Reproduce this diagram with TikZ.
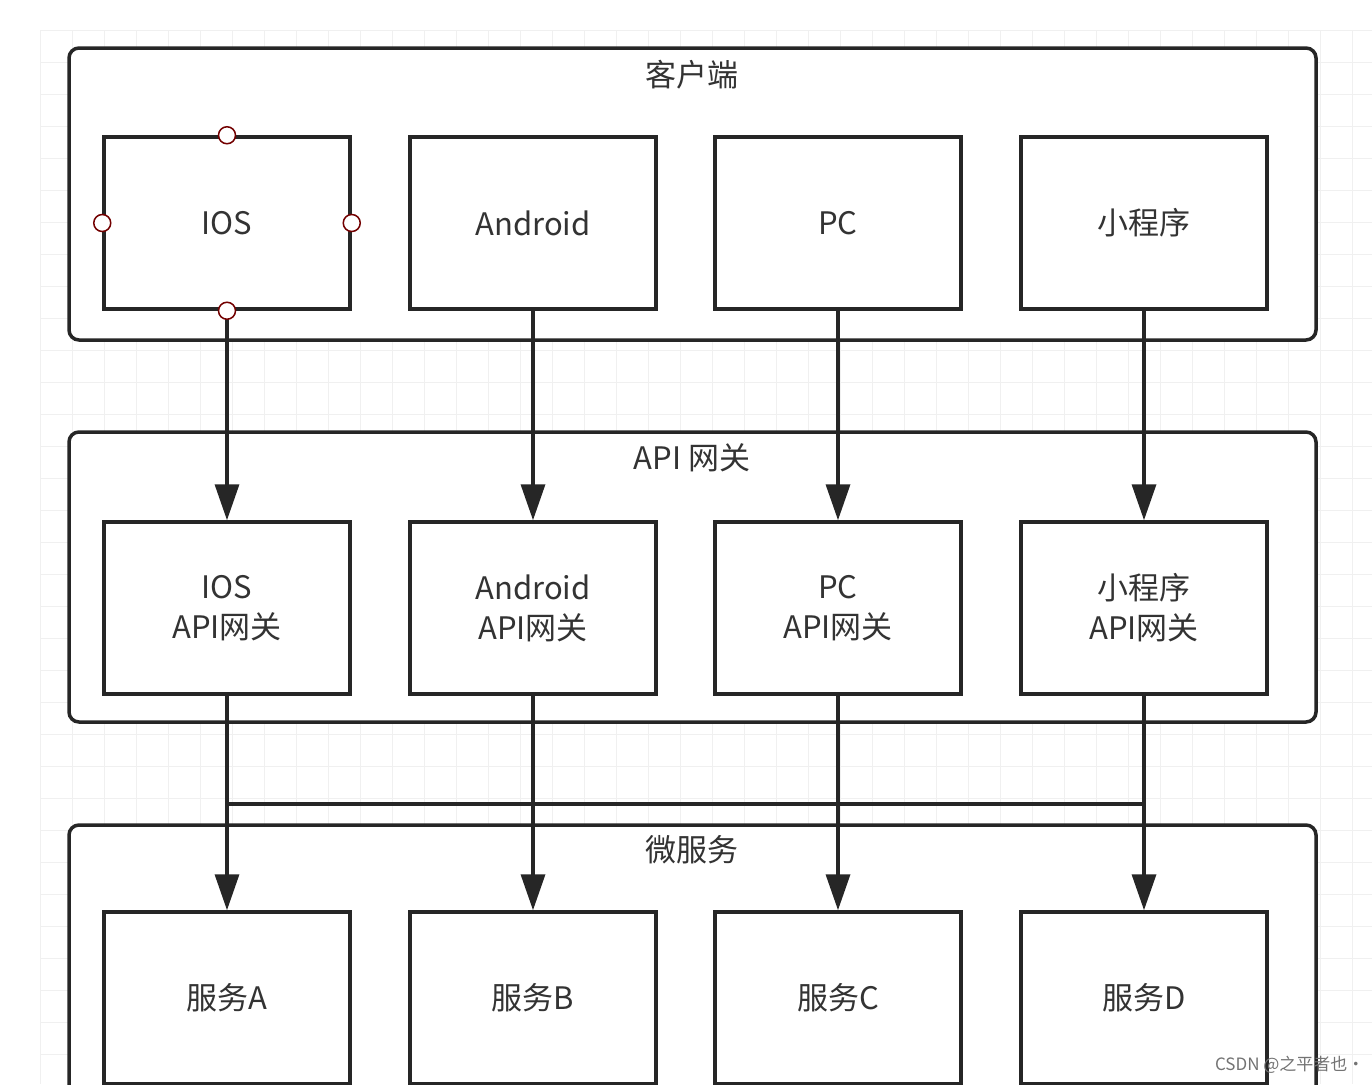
\documentclass[tikz,border=0pt]{standalone}
\usepackage{fontspec}
\setmainfont{Noto Sans CJK SC}
\usetikzlibrary{arrows.meta}
\begin{document}
\begin{tikzpicture}[x=1pt,y=-1pt,
  grp/.style={draw=black!85,line width=3.5pt,rounded corners=10pt,fill=white},
  box/.style={draw=black!85,line width=3.5pt,fill=white,minimum width=246pt,minimum height=172pt,inner sep=0pt,align=center,font=\fontsize{31}{40}\selectfont,text=black!80},
  ttl/.style={font=\fontsize{31}{36}\selectfont,text=black!80},
  arr/.style={draw=black!85,line width=3.5pt,-{Triangle[length=36pt,width=24pt]}},
  hnd/.style={circle,draw=red!45!black,fill=white,line width=1.5pt,minimum size=17pt,inner sep=0pt}]
\useasboundingbox (0,0) rectangle (1372,1084);
\fill[white] (0,0) rectangle (1372,1084);
\begin{scope}
\clip (0,0) rectangle (1372,1084);
\foreach \i in {0,...,41} \draw[black!6,line width=1pt] (40+32*\i,30) -- (40+32*\i,1084);
\foreach \j in {0,...,33} \draw[black!6,line width=1pt] (40,30+32*\j) -- (1372,30+32*\j);
\draw[grp] (69,48) rectangle (1316,340);
\draw[grp] (69,432) rectangle (1316,722);
\draw[grp] (69,825) rectangle (1316,1140);
\node[ttl] (t1) at (692,75) {客户端};
\node[ttl] (t2) at (692,458) {API 网关};
\node[ttl] (t3) at (692,850) {微服务};
\foreach \n/\x/\a/\b/\c in {1/227/IOS/IOS\\API网关/服务A, 2/533/Android/Android\\API网关/服务B, 3/838/PC/PC\\API网关/服务C, 4/1144/小程序/小程序\\API网关/服务D}{
  \node[box] (c\n) at (\x,223) {\a};
  \node[box] (g\n) at (\x,608) {\b};
  \node[box] (s\n) at (\x,998) {\c};
}
\draw[black!85,line width=3.5pt] (g1.south |- 0,804) coordinate (h1) -- (g4.south |- 0,804) coordinate (h4);
\foreach \n in {1,...,4}{
  \draw[arr] (c\n.south) -- (g\n.north);
  \draw[arr] (g\n.south) -- (s\n.north);
}
\node[hnd] at (c1.north) {};
\node[hnd] at (c1.south) {};
\node[hnd] at (c1.west) {};
\node[hnd] at (c1.east) {};
\node[font=\fontsize{17}{20}\selectfont,text=black!55,anchor=east] (wm) at (1368,1065) {CSDN @之平者也·};
\end{scope}
\end{tikzpicture}
\end{document}
